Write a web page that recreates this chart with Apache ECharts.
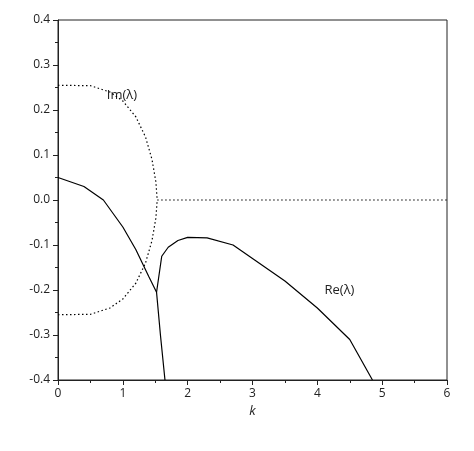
<!DOCTYPE html>
<html><head><meta charset="utf-8">
<script src="https://cdn.jsdelivr.net/npm/echarts@6/dist/echarts.min.js"></script>
<style>html,body{margin:0;background:#fff}#c{width:474px;height:451px}</style>
</head><body><div id="c"></div>
<script>
// Re(λ) 两支
const reBranch1 = [[0,0.05],[0.4,0.03],[0.7,0.0],[1.0,-0.06],[1.2,-0.11],[1.4,-0.17],[1.52,-0.205],[1.58,-0.3],[1.65,-0.4]];
const reBranch2 = [[1.52,-0.205],[1.6,-0.125],[1.7,-0.105],[1.85,-0.09],[2.0,-0.083],[2.3,-0.084],[2.7,-0.1],[3.0,-0.13],[3.5,-0.18],[4.0,-0.24],[4.5,-0.31],[4.85,-0.4]];
// Im(λ)
const imUpper = [[0,0.255],[0.5,0.254],[0.8,0.24],[1.0,0.22],[1.2,0.185],[1.35,0.14],[1.45,0.09],[1.51,0.04],[1.53,0]];
const imLower = imUpper.map(p => [p[0], -p[1]]);
const imFlat = [[1.53,0],[6,0]];

const chart = echarts.init(document.getElementById('c'));
const solid = d => ({type:'line', data:d, symbol:'none', lineStyle:{color:'#000', width:1.2}});
const dotted = d => ({type:'line', data:d, symbol:'none', lineStyle:{color:'#000', width:1.2, type:[1.5,2.5]}});
chart.setOption({
    animation:false,
    grid:{left:58, right:27, top:20, bottom:71, show:true, borderColor:'#222', borderWidth:1},
    xAxis:{type:'value', min:0, max:6, interval:1,
        name:'k', nameLocation:'middle', nameGap:24, nameTextStyle:{fontStyle:'italic', fontSize:13, color:'#222', fontFamily:'Open Sans'},
        axisLine:{onZero:false, lineStyle:{color:'#222'}}, axisTick:{lineStyle:{color:'#222'}},
        minorTick:{show:true, splitNumber:2, length:3}, splitLine:{show:false},
        axisLabel:{color:'#222', fontSize:12, fontFamily:'Open Sans'}},
    yAxis:{type:'value', min:-0.4, max:0.4, interval:0.1,
        axisLine:{show:true, lineStyle:{color:'#222'}}, axisTick:{lineStyle:{color:'#222'}},
        minorTick:{show:true, splitNumber:2, length:3}, splitLine:{show:false},
        axisLabel:{color:'#222', fontSize:12, fontFamily:'Open Sans', formatter:v=>v.toFixed(1)}},
    series:[
        solid(reBranch1), solid(reBranch2),
        dotted(imUpper), dotted(imLower), dotted(imFlat)
    ]
});
// 标签
const p1 = chart.convertToPixel('grid',[1.03,0.23]);
const p2 = chart.convertToPixel('grid',[4.45,-0.205]);
chart.setOption({graphic:[
    {type:'text', x:p1[0]-18, y:p1[1]-8, style:{text:'Im(λ)', font:'13px "Open Sans"', fill:'#222', backgroundColor:'#fff'}},
    {type:'text', x:p2[0]-22, y:p2[1]-8, style:{text:'Re(λ)', font:'13px "Open Sans"', fill:'#222'}}
]});
</script></body></html>
